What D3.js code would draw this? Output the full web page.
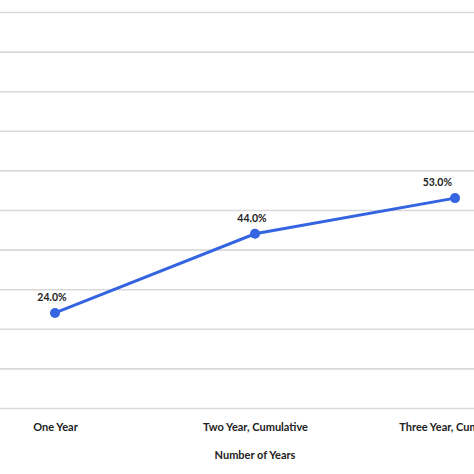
<!DOCTYPE html>
<html>
<head>
<meta charset="utf-8">
<script src="https://cdn.jsdelivr.net/npm/d3@7"></script>
<style>
    html, body { margin: 0; padding: 0; background: #fff; }
    svg { display: block; }
    text { font-family: Lato, "Open Sans", sans-serif; font-weight: bold; fill: #222; }
</style>
</head>
<body>
<div id="chart"></div>
<script>
const categories = ['One Year', 'Two Year, Cumulative', 'Three Year, Cumulative'];
const values = [24, 44, 53];
const yTicks = [0, 10, 20, 30, 40, 50, 60, 70, 80, 90, 100];
const xTitle = 'Number of Years';

const W = 474, H = 474;

const svg = d3.select('#chart').append('svg')
    .attr('width', W)
    .attr('height', H);

const x = d3.scalePoint()
    .domain(categories)
    .range([55, 455]);

const y = d3.scaleLinear()
    .domain([0, 100])
    .range([408, 12]);

// gridlines across the full width
const yAxis = d3.axisLeft(y)
    .tickValues(yTicks)
    .tickSize(-W)
    .tickFormat('');
svg.append('g')
    .attr('class', 'grid')
    .call(yAxis)
    .call(g => g.select('.domain').remove())
    .call(g => g.selectAll('line')
        .attr('stroke', '#d9d9d9')
        .attr('stroke-width', 1.6));

// x axis labels
const xAxis = d3.axisBottom(x).tickSize(0).tickPadding(15);
svg.append('g')
    .attr('transform', `translate(0,${y(0)})`)
    .call(xAxis)
    .call(g => g.select('.domain').remove())
    .call(g => g.selectAll('text')
        .attr('font-size', 11)
        .style('font-family', 'Lato, sans-serif')
        .attr('fill', '#222'));

svg.append('text')
    .attr('x', x(categories[1]))
    .attr('y', 459)
    .attr('text-anchor', 'middle')
    .attr('font-size', 11)
    .text(xTitle);

const data = categories.map((c, i) => ({ c, v: values[i] }));

const line = d3.line()
    .x(d => x(d.c))
    .y(d => y(d.v));

svg.append('path')
    .datum(data)
    .attr('d', line)
    .attr('fill', 'none')
    .attr('stroke', '#3464e0')
    .attr('stroke-width', 3);

svg.selectAll('.dot')
    .data(data)
    .enter()
    .append('circle')
    .attr('class', 'dot')
    .attr('cx', d => x(d.c))
    .attr('cy', d => y(d.v))
    .attr('r', 5)
    .attr('fill', '#3464e0');

// value labels, kept inside the right edge
svg.selectAll('.lbl')
    .data(data)
    .enter()
    .append('text')
    .attr('class', 'lbl')
    .attr('font-size', 10.5)
    .attr('text-anchor', 'middle')
    .attr('y', d => y(d.v) - 12)
    .text(d => d.v.toFixed(1) + '%')
    .attr('x', function (d) {
        const half = this.getComputedTextLength() / 2;
        return Math.min(x(d.c) - 3, W - 22 - half);
    });
</script>
</body>
</html>
